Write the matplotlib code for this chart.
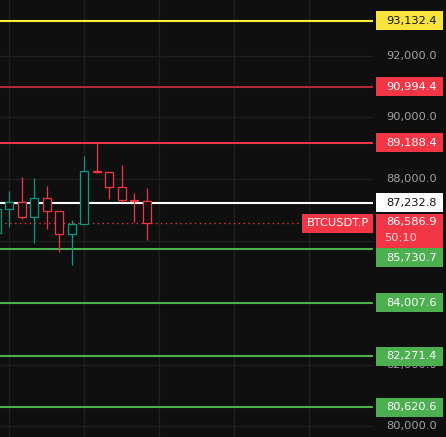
import matplotlib.pyplot as plt
from matplotlib.patches import Rectangle
import matplotlib.transforms as mtransforms

# candles, oldest first (first one is cut off at the left edge)
opens = [86261, 87038, 87264, 86779, 87394, 86973, 86229, 86553, 88268, 88235, 87750, 87329, 87297]
closes = [87038, 87264, 86779, 87394, 86973, 86229, 86553, 88268, 88235, 87750, 87329, 87297, 86586.9]
highs = [87100, 87620, 88074, 88041, 87782, 86973, 86682, 88753, 89174, 88235, 88462, 87556, 87718]
lows = [86200, 86455, 86714, 85938, 86391, 85646, 85226, 86553, 88203, 87362, 87264, 86617, 86035]

# horizontal levels
levels = [93132.4, 90994.4, 89188.4, 87232.8, 85730.7, 84007.6, 82271.4, 80620.6]
level_kind = ['yellow', 'darkred', 'red', 'white', 'green', 'green', 'green', 'green']
scale_ticks = [80000, 82000, 84000, 86000, 88000, 90000, 92000]
symbol = 'BTCUSDT.P'
countdown = '50:10'

BG = '#0f0f0f'
GRID = '#1f1f1f'
UP = '#089981'
DOWN = '#f23645'
line_col = {'yellow': '#ffeb3b', 'darkred': '#b22833', 'red': '#f23645', 'white': '#ffffff', 'green': '#4caf50'}
box_col = {'yellow': '#f7e33b', 'darkred': '#f23645', 'red': '#f23645', 'white': '#ffffff', 'green': '#4caf50'}
txt_col = {'yellow': '#131313', 'darkred': 'white', 'red': 'white', 'white': '#131313', 'green': 'white'}
nudge_px = {85730.7: 8.5}

W, H = 446, 437
PLOT_W = 373
fig = plt.figure(figsize=(W / 100, H / 100), dpi=100, facecolor=BG)
ax = fig.add_axes([0, 0, PLOT_W / W, 1])
ax2 = fig.add_axes([PLOT_W / W, 0, (W - PLOT_W) / W, 1], sharey=ax)
for a in (ax, ax2):
    a.set_facecolor(BG)
    for s in a.spines.values():
        s.set_visible(False)
    a.tick_params(length=0, labelleft=False, labelbottom=False, labelright=False)

ymin, ymax = 79659, 93802
ax.set_ylim(ymin, ymax)
pp = (ymax - ymin) / H  # price units per pixel
ax.set_xlim(0.256, 30.1)
ax.set_yticks(scale_ticks)
ax.set_xticks([1, 7, 13, 19, 25])
ax.grid(color=GRID, lw=1)
ax.set_axisbelow(True)

# levels
for lv, k in zip(levels, level_kind):
    ax.axhline(lv, color=line_col[k], lw=1.5, zorder=2)

# candles
bw = 0.66
for i, (o, c, h, l) in enumerate(zip(opens, closes, highs, lows)):
    col = UP if c >= o else DOWN
    top, bot = max(o, c), min(o, c)
    ax.plot([i, i], [top, h], color=col, lw=0.9, zorder=4, solid_capstyle='butt')
    ax.plot([i, i], [l, bot], color=col, lw=0.9, zorder=4, solid_capstyle='butt')
    ax.add_patch(Rectangle((i - bw / 2, bot), bw, max(top - bot, pp), facecolor=BG,
                           edgecolor=col, lw=0.9, zorder=5))

# current price dotted line and symbol tag
last = closes[-1]
bt = mtransforms.blended_transform_factory(ax.transAxes, ax.transData)
ax.plot([0, 302 / PLOT_W], [last, last], transform=bt, color=DOWN, lw=1.0,
        ls=(0, (1, 2.5)), zorder=3)
ax.add_patch(Rectangle((302 / PLOT_W, last - 10.5 * pp), 1 - 302 / PLOT_W, 19 * pp,
                       transform=bt, facecolor=DOWN, lw=0, zorder=6, clip_on=False))
ax.text(338 / PLOT_W, last, symbol, transform=bt, color='white', fontsize=8.2,
        ha='center', va='center', zorder=7)

# price scale
ax2.set_xlim(0, W - PLOT_W)
tx = 64
for t in scale_ticks:
    ax2.text(tx, t, f'{t:,.1f}', color='#a3a3a3', fontsize=8.2, ha='right', va='center', zorder=1)

bh = 19 * pp
for lv, k in zip(levels, level_kind):
    yc = lv - nudge_px.get(lv, 0) * pp
    ax2.add_patch(Rectangle((3, yc - bh / 2), 67, bh, facecolor=box_col[k], lw=0, zorder=3))
    ax2.text(tx, yc, f'{lv:,.1f}', color=txt_col[k], fontsize=8.2, ha='right', va='center', zorder=4)

ax2.add_patch(Rectangle((3, last - 25.5 * pp), 67, 34 * pp, facecolor=DOWN, lw=0, zorder=5))
ax2.text(tx, last + 0.5 * pp, f'{last:,.1f}', color='white', fontsize=8.2, ha='right', va='center', zorder=6)
ax2.text(tx - 20, last - 15 * pp, countdown, color='#ffd6da', fontsize=8.2, ha='right', va='center', zorder=6)

fig.savefig('out.png', dpi=100, facecolor=BG)
